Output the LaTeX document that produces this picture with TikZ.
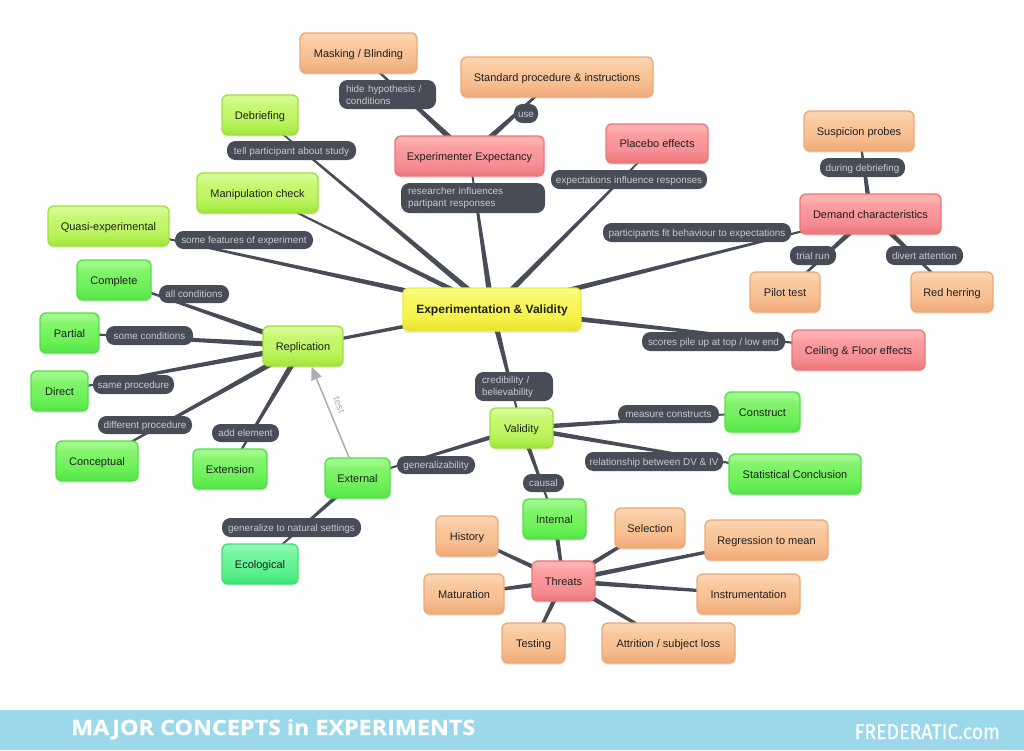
\documentclass[tikz,border=0pt]{standalone}
\usepackage{fontspec}
\usepackage{graphicx}
\setmainfont{Liberation Sans}
\newfontfamily\bannerfont[BoldFeatures={FakeBold=0.6}]{Open Sans}
\newfontfamily\sitefont[FakeBold=0.5]{Fira Sans}
\usetikzlibrary{backgrounds,calc,shadows,arrows.meta}
\definecolor{edgec}{HTML}{474C57}
\definecolor{pilltxt}{HTML}{C9CBD0}
\definecolor{bannerc}{HTML}{9BD8EA}
\definecolor{testc}{HTML}{ABADB2}
% shading: name, bottom, low, mid, high, top (as HTML colours)
\newcommand{\mkshade}[6]{%
  \definecolor{#1a}{HTML}{#2}\definecolor{#1b}{HTML}{#3}\definecolor{#1c}{HTML}{#4}\definecolor{#1d}{HTML}{#5}\definecolor{#1e}{HTML}{#6}%
  \pgfdeclareverticalshading{#1}{100bp}{color(0bp)=(#1a); color(27bp)=(#1a); color(33bp)=(#1b); color(42bp)=(#1c); color(62bp)=(#1d); color(70bp)=(#1e); color(100bp)=(#1e)}}
\mkshade{shO}{F0AB78}{F3B283}{F7BE90}{F9C8A0}{FBD3AE}
\mkshade{shR}{EC787C}{F18488}{F79095}{FB9EA0}{FDB2B2}
\mkshade{shG}{56E64A}{5FEC50}{6FF05A}{82F46C}{9EF98A}
\mkshade{shL}{A2E63E}{ADEE4A}{BCF460}{C8F872}{D6FB92}
\mkshade{shT}{42E478}{4CEB82}{60F190}{70F59E}{8BF9B0}
\mkshade{shY}{E8E436}{EEEC3A}{F5F24E}{F9F760}{FBFA7C}
\definecolor{brO}{HTML}{ECA876}
\definecolor{brR}{HTML}{EC7678}
\definecolor{brG}{HTML}{55DF49}
\definecolor{brL}{HTML}{A0E03C}
\definecolor{brT}{HTML}{3FE276}
\definecolor{brY}{HTML}{EBEB3A}
\tikzset{
  concept/.style={rounded corners=6pt,inner sep=0pt,align=center,text=black!88,
    text height=9pt,text depth=1pt,
    font=\fontsize{11}{13}\selectfont,line width=1.4pt,
    drop shadow={opacity=.16,shadow xshift=0pt,shadow yshift=-2pt}},
  yellowbox/.style={concept,draw=brY,shading=shY},
  orangebox/.style={concept,draw=brO,shading=shO},
  redbox/.style={concept,draw=brR,shading=shR},
  limebox/.style={concept,draw=brL,shading=shL},
  greenbox/.style={concept,draw=brG,shading=shG},
  tealbox/.style={concept,draw=brT,shading=shT},
  pillbase/.style={fill=edgec,text=pilltxt,rounded corners=8.5pt,inner sep=0pt,align=left,
    font=\fontsize{9.9}{12}\selectfont},
  pill/.style={pillbase,text height=8.5pt,text depth=1pt},
  pillm/.style={pillbase,text width=#1},
  taper/.style={fill=edgec,draw=none},
}
% node: name, cx, cy, w, h, style, text
\newcommand{\nd}[7]{\node[#6,minimum width=#4pt,minimum height=#5pt] (#1) at (#2,#3) {#7};}
% taper connector: from, to, start width, end width
\newcommand{\cn}[4]{\fill[taper] let \p1=(#1.center),\p2=(#2.center),\n1={atan2(\y2-\y1,\x2-\x1)+90} in
  ($(\p1)+(\n1:#3pt/2)$) -- ($(\p2)+(\n1:#4pt/2)$) -- ($(\p2)+(\n1+180:#4pt/2)$) -- ($(\p1)+(\n1+180:#3pt/2)$) -- cycle;}
\begin{document}
\begin{tikzpicture}[x=1pt,y=-1pt]
\useasboundingbox (0,0) rectangle (1024,750);
\fill[bannerc] (0,710) rectangle (1024,750);
\node[anchor=base west,text=white,inner sep=0pt] (title) at (71,735) {\resizebox{404pt}{16pt}{\bannerfont\bfseries MAJOR CONCEPTS in EXPERIMENTS}};
\node[anchor=base east,text=white,inner sep=0pt] (site) at (1000,739) {\resizebox{145pt}{15pt}{\sitefont FREDERATIC.com}};

\nd{center}{492}{309.5}{178}{43}{yellowbox}{\bfseries\fontsize{12}{14}\selectfont Experimentation \& Validity}
\nd{masking}{358.5}{53}{117}{40}{orangebox}{Masking / Blinding}
\nd{standard}{557}{77}{192}{40}{orangebox}{Standard procedure \& instructions}
\nd{suspicion}{859}{131}{110}{40}{orangebox}{Suspicion probes}
\nd{pilot}{785}{292}{70}{40}{orangebox}{Pilot test}
\nd{herring}{952}{292}{82}{40}{orangebox}{Red herring}
\nd{selection}{650}{528}{70}{40}{orangebox}{Selection}
\nd{regression}{766.5}{540}{123}{40}{orangebox}{Regression to mean}
\nd{history}{467}{536}{62}{40}{orangebox}{History}
\nd{maturation}{464}{594}{80}{40}{orangebox}{Maturation}
\nd{instrumentation}{748.5}{594}{103}{40}{orangebox}{Instrumentation}
\nd{testing}{533.5}{643}{63}{40}{orangebox}{Testing}
\nd{attrition}{668.5}{643}{133}{40}{orangebox}{Attrition / subject loss}
\nd{expectancy}{469.5}{156}{149}{40}{redbox}{Experimenter Expectancy}
\nd{placebo}{657}{143.5}{102}{39}{redbox}{Placebo effects}
\nd{demand}{870.5}{214}{141}{40}{redbox}{Demand characteristics}
\nd{ceiling}{858.5}{350}{133}{40}{redbox}{Ceiling \& Floor effects}
\nd{threats}{563.5}{581}{63}{40}{redbox}{Threats}
\nd{debriefing}{260}{115}{76}{40}{limebox}{Debriefing}
\nd{manipulation}{257.5}{193}{121}{40}{limebox}{Manipulation check}
\nd{quasi}{108.5}{226}{121}{40}{limebox}{Quasi-experimental}
\nd{replication}{303}{346}{80}{40}{limebox}{Replication}
\nd{validity}{521.5}{428}{63}{40}{limebox}{Validity}
\nd{complete}{114}{280}{74}{40}{greenbox}{Complete}
\nd{partial}{69.5}{333}{59}{40}{greenbox}{Partial}
\nd{direct}{59.5}{391}{57}{40}{greenbox}{Direct}
\nd{conceptual}{97}{461}{82}{40}{greenbox}{Conceptual}
\nd{extension}{230}{469}{74}{40}{greenbox}{Extension}
\nd{external}{357.5}{478}{65}{40}{greenbox}{External}
\nd{construct}{762.5}{412}{75}{40}{greenbox}{Construct}
\nd{statistical}{795}{474}{132}{40}{greenbox}{Statistical Conclusion}
\nd{internal}{554.5}{519}{63}{40}{greenbox}{Internal}
\nd{ecological}{260}{564}{76}{40}{tealbox}{Ecological}

\nd{lhide}{387.5}{94.5}{97}{29}{pillm=83pt}{hide hypothesis /\\conditions}
\nd{luse}{526}{113.5}{24}{19}{pill}{use}
\nd{ltell}{291.5}{150.5}{129}{19}{pill}{tell participant about study}
\nd{lresearcher}{473}{198}{144}{30}{pillm=130pt}{researcher influences\\partipant responses}
\nd{lexpect}{629}{179.5}{156}{19}{pill}{expectations influence responses}
\nd{lduring}{862.5}{167.5}{85}{19}{pill}{during debriefing}
\nd{lfit}{697}{232.5}{188}{19}{pill}{participants fit behaviour to expectations}
\nd{ltrial}{813}{255.5}{46}{19}{pill}{trial run}
\nd{ldivert}{924.5}{255.5}{77}{19}{pill}{divert attention}
\nd{lfeatures}{244}{240}{138}{18}{pill}{some features of experiment}
\nd{lall}{194}{294}{70}{18}{pill}{all conditions}
\nd{lsome}{149.5}{335.5}{87}{19}{pill}{some conditions}
\nd{lsame}{133.5}{384.5}{81}{19}{pill}{same procedure}
\nd{ldifferent}{145}{425}{94}{18}{pill}{different procedure}
\nd{ladd}{245.5}{433}{67}{18}{pill}{add element}
\nd{lscores}{713.5}{341.5}{143}{19}{pill}{scores pile up at top / low end}
\nd{lcred}{514}{386.5}{78}{29}{pillm=64pt}{credibility /\\believability}
\nd{lmeasure}{668.5}{414}{101}{18}{pill}{measure constructs}
\nd{lrel}{654}{461.5}{138}{19}{pill}{relationship between DV \& IV}
\nd{lcausal}{543.5}{483}{41}{18}{pill}{causal}
\nd{lgen}{436}{465}{78}{18}{pill}{generalizability}
\nd{lnatural}{291.5}{527.5}{139}{19}{pill}{generalize to natural settings}

\begin{scope}[on background layer]
\cn{center}{debriefing}{6}{1.2}
\cn{center}{manipulation}{5.5}{1.2}
\cn{center}{quasi}{6}{1.2}
\cn{center}{expectancy}{6}{1.2}
\cn{center}{placebo}{6}{1.2}
\cn{center}{demand}{6}{1.2}
\cn{center}{ceiling}{6}{1.2}
\cn{center}{validity}{6}{1.2}
\cn{center}{replication}{4}{3}
\cn{expectancy}{masking}{6.5}{1.2}
\cn{expectancy}{standard}{6.5}{1.2}
\cn{demand}{suspicion}{5.5}{1.2}
\cn{demand}{pilot}{6}{1.2}
\cn{demand}{herring}{6}{1.2}
\cn{replication}{complete}{6}{1.5}
\cn{replication}{partial}{6}{1.5}
\cn{replication}{direct}{6}{1.5}
\cn{replication}{conceptual}{6}{1.5}
\cn{replication}{extension}{6}{1.5}
\cn{validity}{construct}{5}{1.2}
\cn{validity}{statistical}{5}{1.2}
\cn{validity}{internal}{5}{1.2}
\cn{validity}{external}{5}{1.2}
\cn{external}{ecological}{4.5}{1.2}
\cn{internal}{threats}{4.5}{3}
\cn{threats}{history}{5}{2.5}
\cn{threats}{selection}{5}{2.5}
\cn{threats}{regression}{5}{2.5}
\cn{threats}{maturation}{5}{2.5}
\cn{threats}{instrumentation}{5}{2.5}
\cn{threats}{testing}{5}{2.5}
\cn{threats}{attrition}{5}{2.5}
\end{scope}
\draw[testc,line width=1.5pt,-{Triangle[length=13pt,width=11pt]}] (external) -- (replication);
\node[text=testc,rotate=-68,inner sep=0pt,font=\fontsize{10}{12}\selectfont] (ltest) at (339,405) {test};
\end{tikzpicture}
\end{document}
